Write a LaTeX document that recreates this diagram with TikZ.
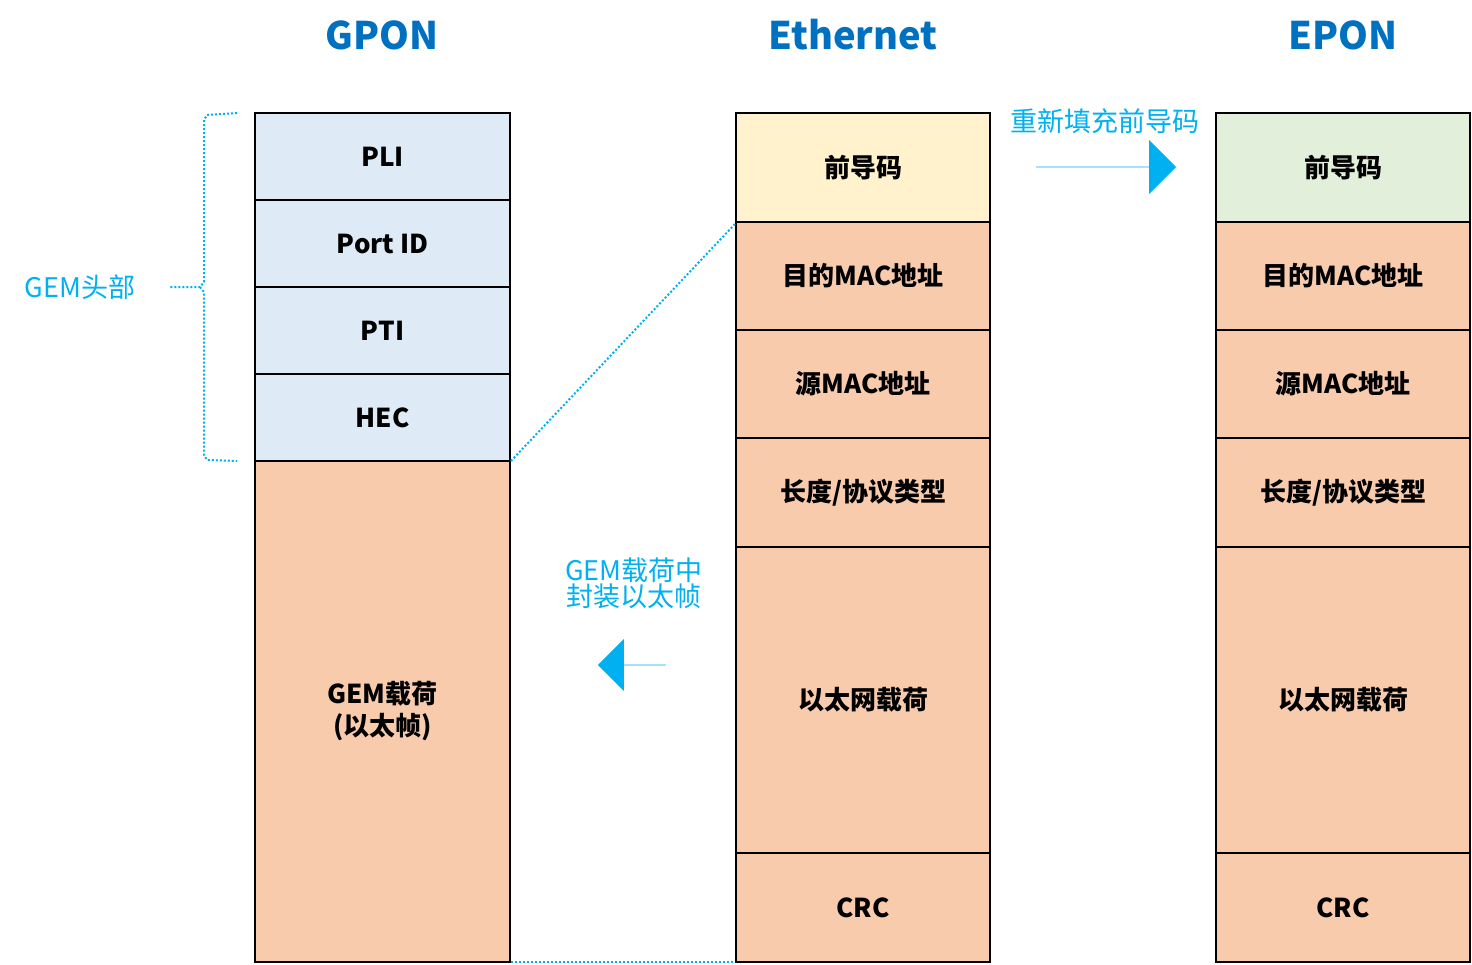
\documentclass[tikz,border=0pt]{standalone}
\usepackage{fontspec}
\setmainfont{Noto Sans CJK SC}
\usetikzlibrary{shapes.arrows}
\definecolor{ttl}{HTML}{0070C0}
\definecolor{cy}{HTML}{00B0F0}
\definecolor{bl}{HTML}{DEEBF7}
\definecolor{or}{HTML}{F8CBAD}
\definecolor{ye}{HTML}{FFF2CC}
\definecolor{gr}{HTML}{E2EFDA}
\begin{document}
\begin{tikzpicture}[x=1pt,y=-1pt,
  box/.style={draw=black,line width=1.5pt,font=\fontsize{26}{32}\selectfont\bfseries,align=center},
  ttl/.style={text=ttl,font=\fontsize{38}{44}\selectfont\bfseries},
  note/.style={text=cy,font=\fontsize{27}{32}\selectfont,align=center},
  dots/.style={draw=cy,line width=2pt,dotted}]
\useasboundingbox (0,0) rectangle (1472,964);
\node[ttl] (t1) at (382,35) {GPON};
\node[ttl] (t2) at (853,35) {Ethernet};
\node[ttl] (t3) at (1343,35) {EPON};
% GPON
\def\gbox#1#2#3#4#5{\path[box,fill=#4] (255,#1) rectangle node (#5) {#3} (510,#2);}
\gbox{113}{200}{PLI}{bl}{g1}
\gbox{200}{287}{Port ID}{bl}{g2}
\gbox{287}{374}{PTI}{bl}{g3}
\gbox{374}{461}{HEC}{bl}{g4}
\gbox{461}{962}{GEM载荷\\(以太帧)}{or}{g5}
% Ethernet & EPON
\foreach \x/\c/\p in {736/ye/e,1216/gr/p}{
 \path[box,fill=\c] (\x,113) rectangle node (\p1) {前导码} (\x+254,222);
 \path[box,fill=or] (\x,222) rectangle node (\p2) {目的MAC地址} (\x+254,330);
 \path[box,fill=or] (\x,330) rectangle node (\p3) {源MAC地址} (\x+254,438);
 \path[box,fill=or] (\x,438) rectangle node (\p4) {长度/协议类型} (\x+254,547);
 \path[box,fill=or] (\x,547) rectangle node (\p5) {以太网载荷} (\x+254,853);
 \path[box,fill=or] (\x,853) rectangle node (\p6) {CRC} (\x+254,962);
}
\coordinate (a1) at (511,461); \coordinate (b1) at (735,224);
\coordinate (a2) at (511,962); \coordinate (b2) at (735,962);
\draw[dots] (a1) -- (b1);
\draw[dots] (a2) -- (b2);
% brace
\draw[dots] (237,113) -- (207,115) -- (204,120) -- (204,282) -- (200,287) -- (170,287);
\draw[dots] (200,287) -- (204,292) -- (204,455) -- (207,460) -- (237,461);
\node[note] (gh) at (80,287) {GEM头部};
\node[note] (rf) at (1105,121) {重新填充前导码};
\node[note] (ge) at (634,583) {GEM载荷中\\[-6pt]封装以太帧};
\node[single arrow,fill=cy,minimum height=140pt,minimum width=54pt,single arrow head extend=13pt,inner sep=0pt,shape border rotate=0] (ar) at (1106,167) {};
\node[single arrow,fill=cy,minimum height=68pt,minimum width=52pt,single arrow head extend=13pt,inner sep=0pt,shape border rotate=180] (al) at (632,665) {};
\end{tikzpicture}
\end{document}
